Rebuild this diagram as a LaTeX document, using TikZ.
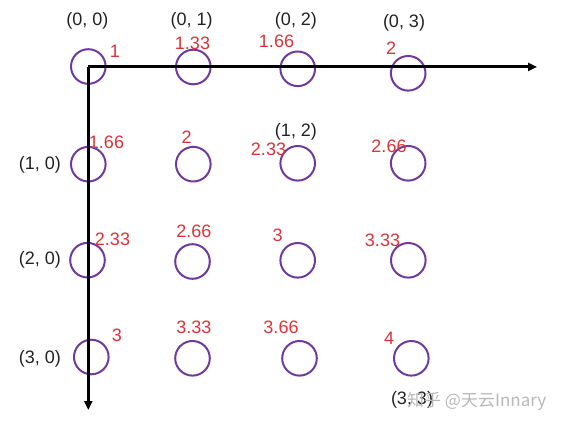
\documentclass[tikz,border=0pt]{standalone}
\usepackage{fontspec}
\setmainfont{Liberation Sans}
\newfontfamily\cjkwm{Noto Sans CJK SC}
\usetikzlibrary{arrows.meta}
\definecolor{cpurple}{HTML}{6F3A9E}
\definecolor{cred}{HTML}{D8343A}
\definecolor{ctext}{HTML}{222222}
\tikzset{
  cell/.style={circle, draw=cpurple, line width=2pt, minimum size=34.6pt, inner sep=0pt},
  coordlbl/.style={inner sep=0pt, text=ctext, font=\fontsize{18}{20}\selectfont},
  vallbl/.style={inner sep=0pt, text=cred, font=\fontsize{18}{20}\selectfont},
  axisline/.style={line width=3pt, -{Triangle[length=9pt,width=8pt]}},
  wmark/.style={inner sep=0pt, text=black!28, font=\cjkwm\fontsize{17}{19}\selectfont}
}
\begin{document}
\begin{tikzpicture}[x=1pt,y=-1pt]
\useasboundingbox (0,0) rectangle (561,427);
% circles
\node[cell] (c00) at (88.3,66.5) {};
\node[cell] (c01) at (193.3,67) {};
\node[cell] (c02) at (297.7,68.8) {};
\node[cell] (c03) at (408.2,73.3) {};
\node[cell] (c10) at (88.3,164.2) {};
\node[cell] (c11) at (193.3,164.2) {};
\node[cell] (c12) at (297.7,163.3) {};
\node[cell] (c13) at (408.2,163.3) {};
\node[cell] (c20) at (87.5,260.2) {};
\node[cell] (c21) at (192.5,261.5) {};
\node[cell] (c22) at (297.7,260.3) {};
\node[cell] (c23) at (408.3,260.3) {};
\node[cell] (c30) at (91.3,357) {};
\node[cell] (c31) at (192.5,358.3) {};
\node[cell] (c32) at (299.5,358.3) {};
\node[cell] (c33) at (411.3,358.3) {};
% axes
\coordinate (O) at (88.3,67);
\coordinate (xend) at (537,67);
\coordinate (yend) at (88.3,410);
\draw[axisline] (O) -- (xend);
\draw[axisline] (O) -- (yend);
% coordinate labels
\node[coordlbl] (l00) at (87.5,21) {(0, 0)};
\node[coordlbl] (l01) at (191.7,21) {(0, 1)};
\node[coordlbl] (l02) at (296,21) {(0, 2)};
\node[coordlbl] (l03) at (404,22.5) {(0, 3)};
\node[coordlbl] (l12) at (296,131.5) {(1, 2)};
\node[coordlbl] (l10) at (40,165) {(1, 0)};
\node[coordlbl] (l20) at (40,260) {(2, 0)};
\node[coordlbl] (l30) at (40,359) {(3, 0)};
\node[coordlbl] (l33) at (412,400) {(3, 3)};
% values
\node[vallbl] (v00) at (115,51.7) {1};
\node[vallbl] (v01) at (192.5,43) {1.33};
\node[vallbl] (v02) at (276.5,41.5) {1.66};
\node[vallbl] (v03) at (391,48) {2};
\node[vallbl] (v10) at (106.5,142.7) {1.66};
\node[vallbl] (v11) at (186.7,137.7) {2};
\node[vallbl] (v12) at (268.5,149) {2.33};
\node[vallbl] (v13) at (389,146.7) {2.66};
\node[vallbl] (v20) at (112.5,239) {2.33};
\node[vallbl] (v21) at (193.8,231.7) {2.66};
\node[vallbl] (v22) at (277.7,235) {3};
\node[vallbl] (v23) at (382.5,240.7) {3.33};
\node[vallbl] (v30) at (117,335) {3};
\node[vallbl] (v31) at (193.8,327.3) {3.33};
\node[vallbl] (v32) at (281,327.3) {3.66};
\node[vallbl] (v33) at (389,338) {4};
% watermark
\node[wmark, anchor=west] (wm) at (407,401.5) {知乎 @天云Innary};
\end{tikzpicture}
\end{document}
